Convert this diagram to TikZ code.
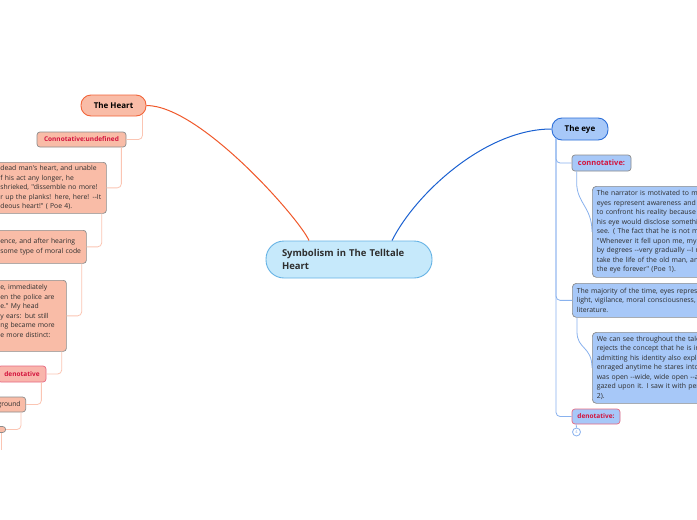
\documentclass[tikz,border=0pt]{standalone}
\usepackage{fontspec}
\setmainfont{Open Sans}[Ligatures=TeXOff]
\usetikzlibrary{arrows.meta,positioning}
\definecolor{rootfill}{HTML}{C6E9FB}
\definecolor{rootline}{HTML}{66B3E5}
\definecolor{heartfill}{HTML}{F9BCA7}
\definecolor{heartline}{HTML}{F2653A}
\definecolor{heartlink}{HTML}{F0582A}
\definecolor{heartsub}{HTML}{FBC5B3}
\definecolor{denofill}{HTML}{F9B5AC}
\definecolor{eyefill}{HTML}{A7C8F8}
\definecolor{eyeline}{HTML}{2C6ED8}
\definecolor{eyelink}{HTML}{1B61D1}
\definecolor{eyesub}{HTML}{89B2EE}
\definecolor{boxline}{HTML}{8C8C8C}
\definecolor{redtext}{HTML}{D3143D}
\definecolor{denoline}{HTML}{E66A82}
\definecolor{bodytext}{HTML}{2E2E2E}

\begin{document}
\begin{tikzpicture}[x=1pt,y=-1pt,
 mainbox/.style={draw=rootline,fill=rootfill,line width=0.9pt,rounded corners=18pt,align=left,text width=134pt,minimum height=37pt,inner xsep=16pt,text=bodytext,font=\fontsize{9.5}{13}\selectfont\bfseries},
 topic/.style={rounded corners=10pt,line width=0.9pt,minimum height=21pt,inner sep=0pt,font=\fontsize{8}{10}\selectfont\bfseries},
 hbox/.style={draw=boxline,fill=heartfill,rounded corners=3pt,line width=0.7pt,align=left,inner xsep=5pt,inner ysep=2pt,text=bodytext,font=\fontsize{6.8}{9.5}\selectfont},
 ebox/.style={hbox,fill=eyefill,rounded corners=4pt,inner xsep=4.5pt,font=\fontsize{6.9}{9.5}\selectfont},
 redtag/.style={text=redtext,font=\fontsize{6.5}{8}\selectfont\bfseries},
 hlink/.style={draw=heartsub,line width=0.8pt,rounded corners=4pt},
 elink/.style={draw=eyesub,line width=0.8pt,rounded corners=4pt}]
\useasboundingbox (0,0) rectangle (697,520);
\clip (0,0) rectangle (697,520);
\fill[white] (0,0) rectangle (697,520);

% centre and main branches
\node[mainbox] (topic0) at (349,259.5) {Symbolism in The Telltale\\Heart};
\node[topic,draw=heartline,fill=heartfill,minimum width=65pt] (heart) at (113.5,105.5) {The Heart};
\node[topic,draw=eyeline,fill=eyefill,minimum width=56pt,minimum height=22pt] (eye) at (580,129) {The eye};
\draw[heartlink,line width=1pt] ([xshift=-40pt]topic0.north) .. controls +(-9,-21) and +(54,0) .. (heart.east);
\draw[eyelink,line width=1pt] ([xshift=43pt]topic0.north) .. controls +(23,-46) and +(-67,0) .. (eye.west);

% heart side
\node[hbox,redtag,minimum width=89pt,minimum height=15pt,inner xsep=0pt] (hconn) at (81.5,139.5) {Connotative:undefined};
\node[hbox,anchor=north west,text width=101pt,minimum height=51pt] (hquote) at (-5,162) {dead man's heart, and unable\\f his act any longer, he\\shrieked, "dissemble no more!\\r up the planks! here, here! --It\\deous heart!" ( Poe 4).};
\node[hbox,anchor=north west,text width=81pt,minimum height=33pt] (hsilence) at (-5,230) {ence, and after hearing\\some type of moral code};
\node[hbox,anchor=north west,text width=61pt,minimum height=71pt] (hpolice) at (-5,280) {e, immediately\\en the police are\\e." My head\\y ears: but still\\ng became more\\e more distinct:\\\mbox{}};
\node[hbox,fill=denofill,draw=denoline,redtag,minimum width=48pt,minimum height=16pt,inner xsep=0pt] (hdeno) at (22,374) {denotative};
\node[hbox,anchor=east,minimum height=15pt] (hground) at (26,404.5) {ground};
\node[hbox,anchor=east,minimum width=14pt,minimum height=6pt,inner sep=0pt] (hsmall) at (6,429.5) {};
\coordinate (hnext) at (1,450);
\draw[hlink] ([xshift=-4pt,yshift=2pt]heart.south east) |- (hconn.east);
\draw[hlink] ([xshift=-5pt]hconn.south east) |- (hquote.east);
\draw[hlink] ([xshift=-5pt]hquote.south east) |- (hsilence.east);
\draw[hlink] ([xshift=-5pt]hsilence.south east) |- (hpolice.east);
\draw[hlink] ([xshift=-5pt]hpolice.south east) |- (hdeno.east);
\draw[hlink] ([xshift=-5pt]hdeno.south east) |- (hground.east);
\draw[hlink] ([xshift=-5pt]hground.south east) |- (hsmall.east);
\draw[hlink] ([xshift=-5pt]hsmall.south east) -- (hnext);

% eye side
\node[hbox,fill=eyefill,redtag,font=\fontsize{7.5}{9}\selectfont\bfseries,minimum width=59pt,minimum height=16pt,inner xsep=0pt] (econn) at (601.5,163) {connotative:};
\node[ebox,anchor=north west,text width=200pt,minimum height=91pt] (emotive) at (592,186) {The narrator is motivated to m\\eyes represent awareness and\\to confront his reality because\\his eye would disclose somethi\\see. ( The fact that he is not me\\"Whenever it fell upon me, my\\by degrees --very gradually --I m\\take the life of the old man, an\\the eye forever" (Poe 1).};
\node[ebox,anchor=north west,text width=200pt,minimum height=34pt] (emajority) at (572,283) {The majority of the time, eyes repres\\light, vigilance, moral consciousness,\\literature.};
\node[ebox,anchor=north west,text width=200pt,minimum height=71pt] (erejects) at (592,332) {We can see throughout the tale\\rejects the concept that he is in\\admitting his identity also expl\\enraged anytime he stares into\\was open --wide, wide open --a\\gazed upon it. I saw it with per\\2).};
\node[hbox,fill=eyefill,draw=denoline,redtag,minimum width=48pt,minimum height=15pt,inner xsep=0pt] (edeno) at (596,416.5) {denotative:};
\node[circle,draw=eyesub,fill=white,line width=0.8pt,minimum size=8pt,inner sep=0pt,text=eyesub,font=\fontsize{4}{4}\selectfont] (emore) at (576.5,432) {4};
\draw[elink] ([xshift=4.5pt,yshift=2pt]eye.south west) |- (econn.west);
\draw[elink] ([xshift=4.5pt,yshift=2pt]eye.south west) |- (emajority.west);
\draw[elink] ([xshift=4.5pt,yshift=2pt]eye.south west) |- (edeno.west);
\draw[elink] ([xshift=5pt]econn.south west) -- +(0,7) .. controls +(0,25) and +(0,-25) .. (emotive.west);
\draw[elink] ([xshift=5pt]emajority.south west) -- +(0,10) .. controls +(0,22) and +(0,-22) .. (erejects.west);
\draw[elink] ([xshift=4.5pt]edeno.south west) -- (emore.north);
\end{tikzpicture}
\end{document}
